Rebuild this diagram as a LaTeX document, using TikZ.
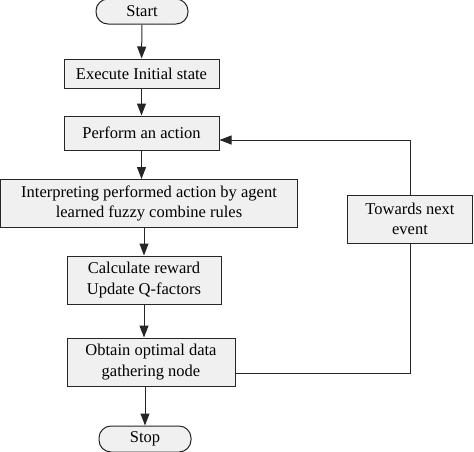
\documentclass[tikz,border=0pt]{standalone}
\usepackage{fontspec}
\setmainfont{Liberation Serif}
\usetikzlibrary{arrows.meta}
\definecolor{boxgray}{HTML}{F0F0F0}
\tikzset{
  box/.style={draw=black!85,fill=boxgray,line width=1pt,align=center,inner sep=0pt,font=\fontsize{16.5}{20.5}\selectfont},
  term/.style={box,rounded corners=12pt},
  arr/.style={line width=1pt,draw=black!85,-{Triangle[length=12pt,width=9pt]}},
  lnk/.style={line width=1pt,draw=black!85}
}
\begin{document}
\begin{tikzpicture}[x=1pt,y=-1pt]
    \useasboundingbox (0,0) rectangle (474,451);
    \node[term,minimum width=92pt,minimum height=25pt] (start) at (142,11.5) {Start};
    \node[box,minimum width=155pt,minimum height=29pt] (exec) at (141.5,73.5) {Execute Initial state};
    \node[box,minimum width=155pt,minimum height=34pt] (perf) at (141.5,133) {Perform an action};
    \node[box,minimum width=297pt,minimum height=48pt] (interp) at (149,203.5) {Interpreting performed action by agent\\learned fuzzy combine rules};
    \node[box,minimum width=154pt,minimum height=48pt] (calc) at (144,280) {Calculate reward\\Update Q-factors};
    \node[box,minimum width=168pt,minimum height=48pt] (obtain) at (151,362) {Obtain optimal data\\gathering node};
    \node[box,minimum width=125pt,minimum height=48pt] (next) at (410,219) {Towards next\\event};
    \node[term,minimum width=92pt,minimum height=26pt] (stop) at (145,439) {Stop};
    \draw[arr] (start) -- (exec);
    \draw[arr] (exec) -- (perf);
    \draw[arr] (perf.south) -- (perf.south |- interp.north);
    \draw[arr] (interp.south -| calc.north) -- (calc.north);
    \draw[arr] (calc.south) -- (calc.south |- obtain.north);
    \draw[arr] (obtain.south -| stop.north) -- (stop.north);
    \draw[lnk] ([yshift=-11pt]obtain.east) -| (next.south);
    \draw[arr] (next.north) |- ([yshift=-7pt]perf.east);
\end{tikzpicture}
\end{document}
